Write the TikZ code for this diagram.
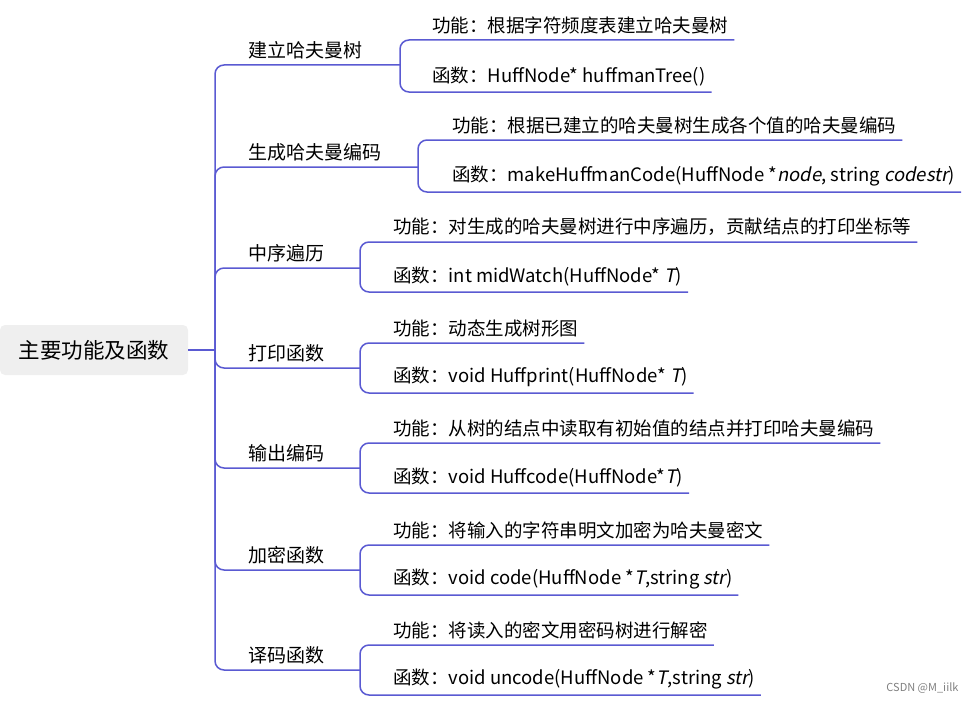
\documentclass[tikz,border=0pt]{standalone}
\usepackage{fontspec}
\setmainfont{Noto Sans CJK SC}
\newfontfamily\slfont[FakeSlant=0.2]{Noto Sans CJK SC}
\newcommand{\var}[1]{{\slfont #1}}
\definecolor{linkblue}{HTML}{5A5AD2}
\definecolor{rootgray}{HTML}{EFEFEF}
\tikzset{
	link/.style={draw=linkblue, line width=1.5pt, rounded corners=9pt},
	branch/.style={anchor=south west, inner xsep=2pt, inner ysep=6pt, font=\fontsize{19}{22}\selectfont},
	leaf/.style={anchor=south west, inner xsep=6pt, inner ysep=6pt, font=\fontsize{18.5}{22}\selectfont},
	root/.style={fill=rootgray, rounded corners=5pt, minimum width=188pt, minimum height=50pt, font=\fontsize{21.5}{24}\selectfont}
}
\begin{document}
\begin{tikzpicture}[x=1pt,y=-1pt]
	\useasboundingbox (0,0) rectangle (974,701);
	\node[root] (root) at (94,350) {主要功能及函数};
	\coordinate (trunk) at (215,350);
	\draw[link] (root.east) -- (trunk);
	% branches
	\node[branch] (b1) at (246,65) {建立哈夫曼树};
	\node[branch] (b2) at (246,167) {生成哈夫曼编码};
	\node[branch] (b3) at (246,268) {中序遍历};
	\node[branch] (b4) at (246,368) {打印函数};
	\node[branch] (b5) at (246,468) {输出编码};
	\node[branch] (b6) at (246,570) {加密函数};
	\node[branch] (b7) at (246,670) {译码函数};
	\coordinate (e1) at (400,65);
	\coordinate (e2) at (418,167);
	\coordinate (e3) at (360,268);
	\coordinate (e4) at (360,368);
	\coordinate (e5) at (360,468);
	\coordinate (e6) at (360,570);
	\coordinate (e7) at (360,670);
	\foreach \i in {1,...,7}
		\draw[link] (trunk) |- (e\i);
	% leaves
	\node[leaf] (f1) at (426,40) {功能：根据字符频度表建立哈夫曼树};
	\node[leaf] (g1) at (426,92) {函数：HuffNode* huffmanTree()};
	\node[leaf] (f2) at (446,140) {功能：根据已建立的哈夫曼树生成各个值的哈夫曼编码};
	\node[leaf] (g2) at (446,192) {函数：makeHuffmanCode(HuffNode *\var{node}, string \var{codestr})};
	\node[leaf] (f3) at (387,242) {功能：对生成的哈夫曼树进行中序遍历，贡献结点的打印坐标等};
	\node[leaf] (g3) at (387,292) {函数：int midWatch(HuffNode* \var{T})};
	\node[leaf] (f4) at (387,343) {功能：动态生成树形图};
	\node[leaf] (g4) at (387,393) {函数：void Huffprint(HuffNode* \var{T})};
	\node[leaf] (f5) at (387,443) {功能：从树的结点中读取有初始值的结点并打印哈夫曼编码};
	\node[leaf] (g5) at (387,493) {函数：void Huffcode(HuffNode*\var{T})};
	\node[leaf] (f6) at (387,545) {功能：将输入的字符串明文加密为哈夫曼密文};
	\node[leaf] (g6) at (387,595) {函数：void code(HuffNode *\var{T},string \var{str})};
	\node[leaf] (f7) at (387,645) {功能：将读入的密文用密码树进行解密};
	\node[leaf] (g7) at (387,695) {函数：void uncode(HuffNode *\var{T},string \var{str})};
	\foreach \i in {1,...,7} {
		\draw[link] (e\i) |- (f\i.south east);
		\draw[link] (e\i) |- (g\i.south east);
	}
	\node[anchor=south east, text=gray, font=\fontsize{11}{13}\selectfont] (mark) at (962,697) {CSDN @M\_iilk};
\end{tikzpicture}
\end{document}
